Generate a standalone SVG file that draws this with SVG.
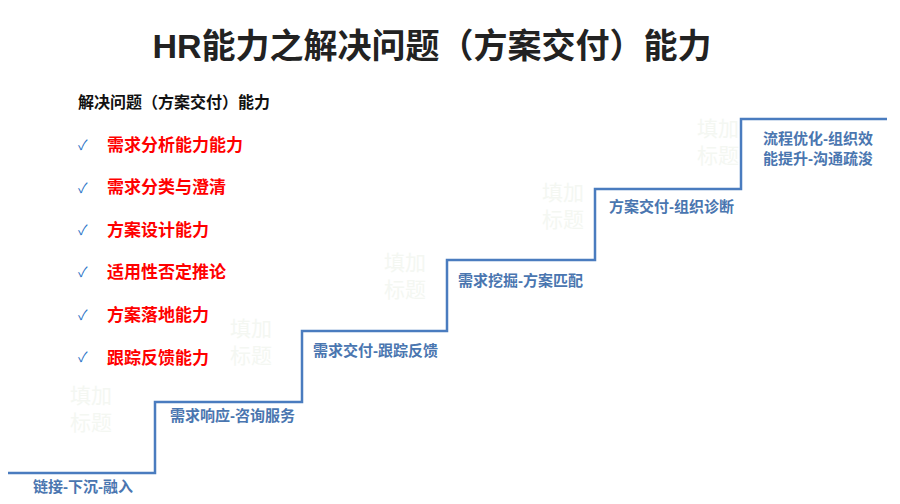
<svg xmlns="http://www.w3.org/2000/svg" width="900" height="504" viewBox="0 0 900 504">
<style>
text{font-family:"Liberation Sans","Noto Sans CJK SC",sans-serif;font-weight:bold}
.t{font-size:34px;fill:#222}
.s{font-size:16px;fill:#111}
.r{font-size:17px;fill:#ff0000}
.c{font-size:14px;fill:#2e75c8;font-weight:normal}
.l{font-size:15px;fill:#4a76b0}
.w{font-size:21px;fill:#f4f7f2;font-weight:normal}
</style>
<rect width="900" height="504" fill="#fff"/>
<g id="watermarks">
<text class="w" x="70" y="403">填加</text><text class="w" x="70" y="430">标题</text>
<text class="w" x="230" y="336">填加</text><text class="w" x="230" y="363">标题</text>
<text class="w" x="384" y="270">填加</text><text class="w" x="384" y="297">标题</text>
<text class="w" x="542" y="200">填加</text><text class="w" x="542" y="227">标题</text>
<text class="w" x="697" y="136">填加</text><text class="w" x="697" y="163">标题</text>
</g>
<text class="t" x="432" y="58" text-anchor="middle">HR能力之解决问题（方案交付）能力</text>
<text class="s" x="78" y="108">解决问题（方案交付）能力</text>
<g id="list">
<text class="c" x="78" y="150">✓</text><text class="r" x="107" y="151">需求分析能力能力</text>
<text class="c" x="78" y="193">✓</text><text class="r" x="107" y="193">需求分类与澄清</text>
<text class="c" x="78" y="235">✓</text><text class="r" x="107" y="236">方案设计能力</text>
<text class="c" x="78" y="277">✓</text><text class="r" x="107" y="278">适用性否定推论</text>
<text class="c" x="78" y="320">✓</text><text class="r" x="107" y="321">方案落地能力</text>
<text class="c" x="78" y="362">✓</text><text class="r" x="107" y="364">跟踪反馈能力</text>
</g>
<g id="connectors">
<polyline points="8,473 155,473 155,402 302,402 302,331 447,331 447,260 595,260 595,189 741,189 741,119 887,119" fill="none" stroke="#4a7cbf" stroke-width="2.5"/>
</g>
<g id="steps">
<text class="l" x="33" y="492">链接-下沉-融入</text>
<text class="l" x="170" y="421">需求响应-咨询服务</text>
<text class="l" x="313" y="356">需求交付-跟踪反馈</text>
<text class="l" x="458" y="286">需求挖掘-方案匹配</text>
<text class="l" x="609" y="212">方案交付-组织诊断</text>
<text class="l" x="763" y="144">流程优化-组织效</text>
<text class="l" x="763" y="164">能提升-沟通疏浚</text>
</g>
</svg>
